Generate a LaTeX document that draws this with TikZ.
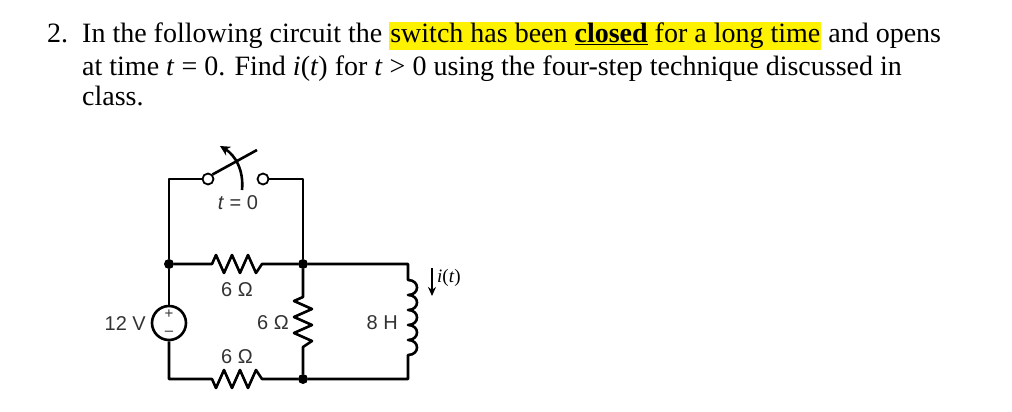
\documentclass[tikz,border=0pt]{standalone}
\usepackage{fontspec}
\usetikzlibrary{arrows.meta}
\setmainfont{Liberation Serif}
\newfontfamily\cf{Liberation Sans}
\begin{document}
\begin{tikzpicture}[x=1pt,y=-1pt,
  w/.style={line width=2.6pt,line join=round},
  lbl/.style={font=\cf\fontsize{20}{22}\selectfont,text=black!80,inner sep=0pt},
  tx/.style={font=\fontsize{28}{31}\selectfont,anchor=base west,inner sep=0pt},
  dot/.style={circle,fill=black,inner sep=0pt,minimum size=10pt},
  term/.style={circle,draw,fill=white,line width=1.8pt,inner sep=0pt,minimum size=11pt}]
\useasboundingbox (0,0) rectangle (1012,412);
\fboxsep=1pt
\node[tx] (l1n) at (47,43) {2.};
\node[tx] (l1) at (82,43) {In the following circuit the \colorbox{yellow}{switch has been \textbf{\underline{closed}} for a long time} and opens};
\node[tx] (l2) at (82,75) {at time \textit{t} = 0. Find \textit{i}(\textit{t}) for \textit{t} > 0 using the four-step technique discussed in};
\node[tx] (l3) at (82,105) {class.};
% coordinates
\coordinate (TL) at (169,179); \coordinate (TR) at (303,179);
\node[dot] (A) at (169,264) {}; \node[dot] (B) at (303,264) {}; \node[dot] (C) at (303,379) {};
\coordinate (BL) at (169,379); \coordinate (RT) at (408,264); \coordinate (RB) at (408,379);
\node[term] (s1) at (208,179) {}; \node[term] (s2) at (263,179) {};
\node[circle,draw,line width=2.6pt,minimum size=34pt,inner sep=0pt] (V) at (169,323) {};
% wires
\draw[w] (A) -- (TL) -- (s1);
\draw[w] (s2) -- (TR) -- (B);
\draw[w] (s1.north east) -- (257,150);
\draw[w,-{Stealth[length=10pt,width=10pt]}] (242,190) .. controls (244,170) and (235,155) .. (220,146);
\draw[w] (A) -- (V.north); \draw[w] (V.south) -- (BL) -- (212,379)
  -- (216,388) -- (224,370) -- (232,388) -- (240,370) -- (248,388) -- (256,370) -- (262,379) -- (C);
\draw[w] (A) -- (212,264) -- (216,255) -- (224,273) -- (232,255) -- (240,273) -- (248,255) -- (256,273) -- (262,264) -- (B);
\draw[w] (B) -- (303,297) -- (294,301) -- (312,309) -- (294,317) -- (312,325) -- (294,333) -- (312,341) -- (303,347) -- (C);
\draw[w] (B) -- (RT) -- (408,280)
  .. controls (420,280) and (420,295) .. (408,295)
  .. controls (420,295) and (420,310) .. (408,310)
  .. controls (420,310) and (420,325) .. (408,325)
  .. controls (420,325) and (420,340) .. (408,340)
  .. controls (420,340) and (420,355) .. (408,355) -- (RB) -- (C);
\node[lbl,font=\cf\fontsize{15}{16}\selectfont] (plus) at (169,314) {+};
\node[lbl,font=\cf\fontsize{15}{16}\selectfont] (minus) at (169,333) {–};
\node[lbl,anchor=east] (v12) at (146,324) {12 V};
\node[lbl] (r1) at (237,290) {6 Ω};
\node[lbl,anchor=east] (r2) at (289,323) {6 Ω};
\node[lbl] (r3) at (237,357) {6 Ω};
\node[lbl,anchor=east] (L) at (398,323) {8 H};
\node[lbl] (t0) at (238,203) {\textit{t} = 0};
\coordinate (a1) at (432,268); \coordinate (a2) at (432,296);
\draw[line width=1.8pt,-{Stealth[length=9pt,width=8pt]}] (a1) -- (a2);
\node[inner sep=0pt,anchor=west,font=\fontsize{19}{20}\selectfont] (it) at (437,278) {\textit{i}(\textit{t})};
\end{tikzpicture}
\end{document}
